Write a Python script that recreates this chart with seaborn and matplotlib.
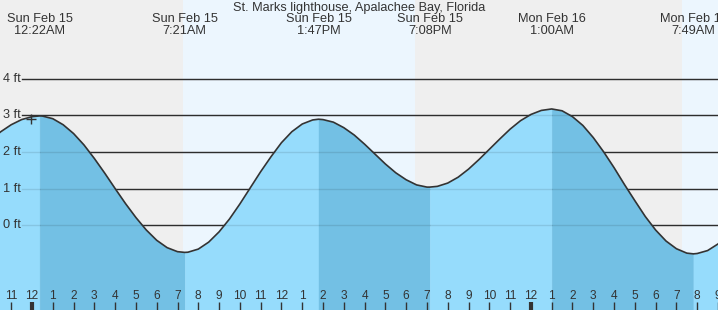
import matplotlib
matplotlib.use("Agg")
import matplotlib.pyplot as plt
import matplotlib.transforms as mtransforms
import numpy as np
import pandas as pd
import seaborn as sns

# ---- data (hours relative to Sun Feb 15 00:00, height in ft) ----
times = [-2.5, -2, -1.5, -1, -0.5, 0, 0.367, 0.5, 1, 1.5, 2, 2.5, 3, 3.5, 4, 4.5, 5, 5.5,
         6, 6.5, 7, 7.35, 7.5, 8, 8.5, 9, 9.5, 10, 10.5, 11, 11.5, 12, 12.5, 13, 13.5,
         13.783, 14, 14.5, 15, 15.5, 16, 16.5, 17, 17.5, 18, 18.5, 19, 19.133, 19.5, 20,
         20.5, 21, 21.5, 22, 22.5, 23, 23.5, 24, 24.5, 25, 25.5, 26, 26.5, 27, 27.5, 28,
         28.5, 29, 29.5, 30, 30.5, 31, 31.5, 31.817, 32, 32.5, 33, 33.5]
heights = [2.06, 2.32, 2.55, 2.74, 2.88, 2.96, 2.98, 2.977, 2.905, 2.74, 2.50, 2.19, 1.82,
           1.42, 1.00, 0.59, 0.21, -0.13, -0.41, -0.61, -0.72, -0.74, -0.735, -0.65, -0.46,
           -0.18, 0.17, 0.58, 1.02, 1.46, 1.87, 2.25, 2.55, 2.76, 2.87, 2.89, 2.88, 2.81,
           2.66, 2.46, 2.21, 1.94, 1.67, 1.43, 1.24, 1.10, 1.04, 1.04, 1.06, 1.15, 1.31,
           1.53, 1.79, 2.07, 2.35, 2.62, 2.85, 3.02, 3.13, 3.17, 3.12, 2.96, 2.72, 2.39,
           2.00, 1.57, 1.11, 0.67, 0.24, -0.13, -0.43, -0.64, -0.76, -0.78, -0.77, -0.69,
           -0.51, -0.25]

extreme_times = [0.367, 7.35, 13.783, 19.133, 25.0, 31.817]
extreme_dates = ["Sun Feb 15", "Sun Feb 15", "Sun Feb 15", "Sun Feb 15", "Mon Feb 16", "Mon Feb 16"]
extreme_clock = ["12:22AM", "7:21AM", "1:47PM", "7:08PM", "1:00AM", "7:49AM"]

sun_events = [7.27, 18.42, 31.25]          # sunrise, sunset, sunrise
grid_levels = [0, 1, 2, 3, 4]
grid_labels = ["0 ft", "1 ft", "2 ft", "3 ft", "4 ft"]

tick_hours = list(range(-1, 34))
tick_labels = ["11", "12", "1", "2", "3", "4", "5", "6", "7", "8", "9", "10", "11",
               "12", "1", "2", "3", "4", "5", "6", "7", "8", "9", "10", "11",
               "12", "1", "2", "3", "4", "5", "6", "7", "8", "9"]
midnights = [0, 24]
now_time, now_height = -0.06, 2.90
title = "St. Marks lighthouse, Apalachee Bay, Florida"

# ---- styling ----
NIGHT = "#efefef"
DAY = "#ecf6fe"
FLOOD = "#96dcfc"
EBB = "#73c0e4"
INK = "#333333"
FONT = ["Liberation Sans", "DejaVu Sans"]

plt.rcParams["font.family"] = FONT

fig = plt.figure(figsize=(7.18, 3.10), dpi=100)
ax = fig.add_axes([0, 0, 1, 1])
x0, x1 = -32 / 20.8, 686 / 20.8
y0, y1 = -2.31, 6.14
ax.set_xlim(x0, x1)
ax.set_ylim(y0, y1)
ax.set_axisbelow(False)

# day / night background
bounds = [x0 - 1] + sun_events + [x1 + 1]
for i in range(len(bounds) - 1):
    ax.axvspan(bounds[i], bounds[i + 1], color=NIGHT if i % 2 == 0 else DAY, lw=0, zorder=0)

# grid lines (under the water)
for lv in grid_levels:
    ax.axhline(lv, xmin=22 / 718, xmax=1, color=INK, lw=1.0, zorder=1)

df = pd.DataFrame({"t": times, "h": heights})
tarr = np.array(times)
harr = np.array(heights)
seg_b = [tarr[0]] + extreme_times + [tarr[-1]]
for i in range(len(seg_b) - 1):
    m = (tarr >= seg_b[i] - 1e-9) & (tarr <= seg_b[i + 1] + 1e-9)
    ax.fill_between(tarr[m], harr[m], y0 - 1, color=FLOOD if i % 2 == 0 else EBB,
                    lw=0.3, edgecolor=FLOOD if i % 2 == 0 else EBB, zorder=2)

# faint grid lines through water
for lv in grid_levels:
    ax.axhline(lv, xmin=22 / 718, xmax=1, color="black", alpha=0.1, lw=1.0, zorder=2.5)

sns.lineplot(data=df, x="t", y="h", ax=ax, color=INK, lw=1.2, zorder=3, sort=True)
ax.plot([now_time], [now_height], marker="+", ms=7, mew=1.0, color=INK, zorder=4)

# y labels
tr = mtransforms.blended_transform_factory(ax.transAxes, ax.transData)
for lv, lab in zip(grid_levels, grid_labels):
    ax.text(3 / 718, lv, lab, transform=tr, ha="left", va="center", fontsize=9.2,
            color=INK, zorder=5)

# header labels
trh = mtransforms.blended_transform_factory(ax.transData, ax.transAxes)
for t, d, c in zip(extreme_times, extreme_dates, extreme_clock):
    ax.text(t, 1 - 19.5 / 310, d, transform=trh, ha="center", va="center",
            fontsize=9.2, color=INK)
    ax.text(t, 1 - 31.5 / 310, c, transform=trh, ha="center", va="center",
            fontsize=9.2, color=INK)
ax.text(0.5, 1 - 7.5 / 310, title, transform=ax.transAxes, ha="center", va="center",
        fontsize=9.2, color=INK)

# x ticks
ax.set_xticks(tick_hours, tick_labels)
ax.tick_params(axis="x", direction="in", length=6, width=1.0, color=INK,
               labelcolor=INK, labelsize=8.6, pad=-14.5)
for tk, loc in zip(ax.xaxis.get_major_ticks(), tick_hours):
    if loc in midnights:
        tk.tick1line.set_markeredgewidth(3)
ax.set_yticks([])
ax.set_xlabel("")
ax.set_ylabel("")
for s in ax.spines.values():
    s.set_visible(False)

fig.savefig("out.png", dpi=100)
